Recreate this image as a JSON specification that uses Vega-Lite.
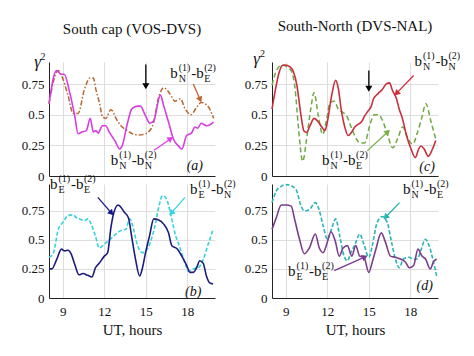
{
"$schema":"https://vega.github.io/schema/vega-lite/v6.json",
"padding":{"left":21,"top":19,"right":5,"bottom":5},
"config":{"view":{"stroke":null},"font":"Liberation Serif, Times New Roman, serif",
 "axis":{"labelFont":"Liberation Serif, Times New Roman, serif","labelFontSize":13,"labelColor":"#111","domainColor":"#222","domainWidth":1,"gridColor":"#dedede","ticks":false,"labelPadding":5,"titleFont":"Liberation Serif, Times New Roman, serif","titleFontSize":15,"titleFontWeight":"normal","titleColor":"#111"},
 "title":{"font":"Liberation Serif, Times New Roman, serif","fontSize":15,"fontWeight":"normal","color":"#111"},
 "text":{"font":"Liberation Serif, Times New Roman, serif","color":"#111","align":"left","baseline":"alphabetic"}},
"datasets":{
"lines":[
{"p":"a","s":"NN","t":8,"v":0.59},{"p":"a","s":"NN","t":8.54,"v":0.86},{"p":"a","s":"NN","t":8.9,"v":0.83},{"p":"a","s":"NN","t":9.1,"v":0.83},{"p":"a","s":"NN","t":9.5,"v":0.68},{"p":"a","s":"NN","t":9.86,"v":0.49},{"p":"a","s":"NN","t":10.1,"v":0.345},{"p":"a","s":"NN","t":10.4,"v":0.36},{"p":"a","s":"NN","t":10.7,"v":0.37},{"p":"a","s":"NN","t":10.98,"v":0.47},{"p":"a","s":"NN","t":11.2,"v":0.36},{"p":"a","s":"NN","t":11.4,"v":0.37},{"p":"a","s":"NN","t":11.55,"v":0.35},{"p":"a","s":"NN","t":11.87,"v":0.41},{"p":"a","s":"NN","t":12.1,"v":0.41},{"p":"a","s":"NN","t":12.35,"v":0.36},{"p":"a","s":"NN","t":12.8,"v":0.28},{"p":"a","s":"NN","t":13.1,"v":0.22},{"p":"a","s":"NN","t":13.3,"v":0.25},{"p":"a","s":"NN","t":13.67,"v":0.43},{"p":"a","s":"NN","t":14.0,"v":0.55},{"p":"a","s":"NN","t":14.4,"v":0.57},{"p":"a","s":"NN","t":14.6,"v":0.57},{"p":"a","s":"NN","t":14.98,"v":0.49},{"p":"a","s":"NN","t":15.3,"v":0.43},{"p":"a","s":"NN","t":15.57,"v":0.45},{"p":"a","s":"NN","t":16.05,"v":0.66},{"p":"a","s":"NN","t":16.3,"v":0.57},{"p":"a","s":"NN","t":16.64,"v":0.44},{"p":"a","s":"NN","t":17.0,"v":0.30},{"p":"a","s":"NN","t":17.4,"v":0.24},{"p":"a","s":"NN","t":17.6,"v":0.22},{"p":"a","s":"NN","t":17.95,"v":0.33},{"p":"a","s":"NN","t":18.3,"v":0.35},{"p":"a","s":"NN","t":18.55,"v":0.40},{"p":"a","s":"NN","t":18.75,"v":0.39},{"p":"a","s":"NN","t":19.0,"v":0.43},{"p":"a","s":"NN","t":19.4,"v":0.41},{"p":"a","s":"NN","t":19.9,"v":0.44},
{"p":"a","s":"NE","t":8,"v":0.59},{"p":"a","s":"NE","t":8.66,"v":0.86},{"p":"a","s":"NE","t":8.9,"v":0.82},{"p":"a","s":"NE","t":9.38,"v":0.655},{"p":"a","s":"NE","t":9.74,"v":0.51},{"p":"a","s":"NE","t":10.1,"v":0.51},{"p":"a","s":"NE","t":10.57,"v":0.71},{"p":"a","s":"NE","t":10.97,"v":0.80},{"p":"a","s":"NE","t":11.2,"v":0.80},{"p":"a","s":"NE","t":11.4,"v":0.70},{"p":"a","s":"NE","t":11.64,"v":0.60},{"p":"a","s":"NE","t":11.88,"v":0.48},{"p":"a","s":"NE","t":12.1,"v":0.47},{"p":"a","s":"NE","t":12.47,"v":0.54},{"p":"a","s":"NE","t":12.6,"v":0.53},{"p":"a","s":"NE","t":12.8,"v":0.48},{"p":"a","s":"NE","t":13.2,"v":0.41},{"p":"a","s":"NE","t":13.67,"v":0.37},{"p":"a","s":"NE","t":14.14,"v":0.34},{"p":"a","s":"NE","t":14.5,"v":0.335},{"p":"a","s":"NE","t":14.86,"v":0.34},{"p":"a","s":"NE","t":15.2,"v":0.36},{"p":"a","s":"NE","t":15.57,"v":0.44},{"p":"a","s":"NE","t":15.9,"v":0.63},{"p":"a","s":"NE","t":16.3,"v":0.72},{"p":"a","s":"NE","t":16.55,"v":0.70},{"p":"a","s":"NE","t":16.9,"v":0.64},{"p":"a","s":"NE","t":17.1,"v":0.61},{"p":"a","s":"NE","t":17.5,"v":0.63},{"p":"a","s":"NE","t":17.83,"v":0.55},{"p":"a","s":"NE","t":18.26,"v":0.50},{"p":"a","s":"NE","t":18.67,"v":0.56},{"p":"a","s":"NE","t":19.0,"v":0.60},{"p":"a","s":"NE","t":19.4,"v":0.58},{"p":"a","s":"NE","t":19.6,"v":0.55},{"p":"a","s":"NE","t":19.9,"v":0.47},
{"p":"c","s":"NN","t":8,"v":0.545},{"p":"c","s":"NN","t":8.24,"v":0.70},{"p":"c","s":"NN","t":8.48,"v":0.83},{"p":"c","s":"NN","t":8.72,"v":0.90},{"p":"c","s":"NN","t":8.96,"v":0.905},{"p":"c","s":"NN","t":9.3,"v":0.89},{"p":"c","s":"NN","t":9.55,"v":0.85},{"p":"c","s":"NN","t":9.8,"v":0.74},{"p":"c","s":"NN","t":10.1,"v":0.49},{"p":"c","s":"NN","t":10.3,"v":0.37},{"p":"c","s":"NN","t":10.5,"v":0.355},{"p":"c","s":"NN","t":10.75,"v":0.41},{"p":"c","s":"NN","t":11.04,"v":0.47},{"p":"c","s":"NN","t":11.35,"v":0.44},{"p":"c","s":"NN","t":11.6,"v":0.40},{"p":"c","s":"NN","t":11.83,"v":0.37},{"p":"c","s":"NN","t":12.0,"v":0.44},{"p":"c","s":"NN","t":12.3,"v":0.65},{"p":"c","s":"NN","t":12.6,"v":0.78},{"p":"c","s":"NN","t":12.8,"v":0.71},{"p":"c","s":"NN","t":13.0,"v":0.545},{"p":"c","s":"NN","t":13.26,"v":0.40},{"p":"c","s":"NN","t":13.5,"v":0.33},{"p":"c","s":"NN","t":13.74,"v":0.355},{"p":"c","s":"NN","t":13.98,"v":0.40},{"p":"c","s":"NN","t":14.2,"v":0.42},{"p":"c","s":"NN","t":14.46,"v":0.44},{"p":"c","s":"NN","t":14.7,"v":0.49},{"p":"c","s":"NN","t":14.94,"v":0.53},{"p":"c","s":"NN","t":15.18,"v":0.57},{"p":"c","s":"NN","t":15.34,"v":0.63},{"p":"c","s":"NN","t":15.65,"v":0.67},{"p":"c","s":"NN","t":16.0,"v":0.71},{"p":"c","s":"NN","t":16.25,"v":0.75},{"p":"c","s":"NN","t":16.5,"v":0.76},{"p":"c","s":"NN","t":16.7,"v":0.70},{"p":"c","s":"NN","t":16.97,"v":0.64},{"p":"c","s":"NN","t":17.2,"v":0.545},{"p":"c","s":"NN","t":17.45,"v":0.46},{"p":"c","s":"NN","t":17.7,"v":0.34},{"p":"c","s":"NN","t":18.05,"v":0.22},{"p":"c","s":"NN","t":18.36,"v":0.15},{"p":"c","s":"NN","t":18.6,"v":0.22},{"p":"c","s":"NN","t":18.77,"v":0.245},{"p":"c","s":"NN","t":19.0,"v":0.22},{"p":"c","s":"NN","t":19.3,"v":0.16},{"p":"c","s":"NN","t":19.6,"v":0.22},{"p":"c","s":"NN","t":19.84,"v":0.29},
{"p":"c","s":"NE","t":8,"v":0.74},{"p":"c","s":"NE","t":8.36,"v":0.87},{"p":"c","s":"NE","t":8.72,"v":0.905},{"p":"c","s":"NE","t":9.08,"v":0.89},{"p":"c","s":"NE","t":9.43,"v":0.85},{"p":"c","s":"NE","t":9.67,"v":0.71},{"p":"c","s":"NE","t":9.9,"v":0.41},{"p":"c","s":"NE","t":10.22,"v":0.12},{"p":"c","s":"NE","t":10.5,"v":0.30},{"p":"c","s":"NE","t":10.8,"v":0.545},{"p":"c","s":"NE","t":11.04,"v":0.68},{"p":"c","s":"NE","t":11.35,"v":0.49},{"p":"c","s":"NE","t":11.66,"v":0.34},{"p":"c","s":"NE","t":11.95,"v":0.46},{"p":"c","s":"NE","t":12.2,"v":0.60},{"p":"c","s":"NE","t":12.5,"v":0.61},{"p":"c","s":"NE","t":12.8,"v":0.545},{"p":"c","s":"NE","t":13.1,"v":0.52},{"p":"c","s":"NE","t":13.4,"v":0.49},{"p":"c","s":"NE","t":13.65,"v":0.42},{"p":"c","s":"NE","t":13.98,"v":0.33},{"p":"c","s":"NE","t":14.34,"v":0.27},{"p":"c","s":"NE","t":14.7,"v":0.27},{"p":"c","s":"NE","t":15.06,"v":0.41},{"p":"c","s":"NE","t":15.4,"v":0.50},{"p":"c","s":"NE","t":15.7,"v":0.50},{"p":"c","s":"NE","t":16.0,"v":0.45},{"p":"c","s":"NE","t":16.37,"v":0.33},{"p":"c","s":"NE","t":16.73,"v":0.23},{"p":"c","s":"NE","t":17.1,"v":0.31},{"p":"c","s":"NE","t":17.45,"v":0.40},{"p":"c","s":"NE","t":17.8,"v":0.31},{"p":"c","s":"NE","t":18.17,"v":0.26},{"p":"c","s":"NE","t":18.5,"v":0.35},{"p":"c","s":"NE","t":18.84,"v":0.48},{"p":"c","s":"NE","t":19.12,"v":0.59},{"p":"c","s":"NE","t":19.5,"v":0.44},{"p":"c","s":"NE","t":19.84,"v":0.30},
{"p":"b","s":"EE","t":8,"v":0.25},{"p":"b","s":"EE","t":8.2,"v":0.25},{"p":"b","s":"EE","t":8.55,"v":0.33},{"p":"b","s":"EE","t":8.9,"v":0.42},{"p":"b","s":"EE","t":9.14,"v":0.405},{"p":"b","s":"EE","t":9.38,"v":0.41},{"p":"b","s":"EE","t":9.6,"v":0.38},{"p":"b","s":"EE","t":9.86,"v":0.29},{"p":"b","s":"EE","t":10.17,"v":0.20},{"p":"b","s":"EE","t":10.45,"v":0.21},{"p":"b","s":"EE","t":10.8,"v":0.195},{"p":"b","s":"EE","t":11.1,"v":0.18},{"p":"b","s":"EE","t":11.36,"v":0.26},{"p":"b","s":"EE","t":11.64,"v":0.30},{"p":"b","s":"EE","t":12.0,"v":0.36},{"p":"b","s":"EE","t":12.24,"v":0.39},{"p":"b","s":"EE","t":12.48,"v":0.61},{"p":"b","s":"EE","t":12.7,"v":0.74},{"p":"b","s":"EE","t":13.0,"v":0.80},{"p":"b","s":"EE","t":13.2,"v":0.78},{"p":"b","s":"EE","t":13.43,"v":0.74},{"p":"b","s":"EE","t":13.74,"v":0.69},{"p":"b","s":"EE","t":14.0,"v":0.51},{"p":"b","s":"EE","t":14.26,"v":0.33},{"p":"b","s":"EE","t":14.55,"v":0.19},{"p":"b","s":"EE","t":14.74,"v":0.25},{"p":"b","s":"EE","t":14.98,"v":0.39},{"p":"b","s":"EE","t":15.26,"v":0.53},{"p":"b","s":"EE","t":15.57,"v":0.68},{"p":"b","s":"EE","t":15.93,"v":0.67},{"p":"b","s":"EE","t":16.29,"v":0.635},{"p":"b","s":"EE","t":16.64,"v":0.56},{"p":"b","s":"EE","t":16.88,"v":0.45},{"p":"b","s":"EE","t":17.24,"v":0.425},{"p":"b","s":"EE","t":17.6,"v":0.36},{"p":"b","s":"EE","t":17.95,"v":0.28},{"p":"b","s":"EE","t":18.19,"v":0.22},{"p":"b","s":"EE","t":18.43,"v":0.22},{"p":"b","s":"EE","t":18.67,"v":0.26},{"p":"b","s":"EE","t":18.9,"v":0.32},{"p":"b","s":"EE","t":19.14,"v":0.30},{"p":"b","s":"EE","t":19.38,"v":0.19},{"p":"b","s":"EE","t":19.62,"v":0.13},{"p":"b","s":"EE","t":19.86,"v":0.12},
{"p":"b","s":"EN","t":8,"v":0.35},{"p":"b","s":"EN","t":8.3,"v":0.38},{"p":"b","s":"EN","t":8.67,"v":0.59},{"p":"b","s":"EN","t":9.0,"v":0.65},{"p":"b","s":"EN","t":9.38,"v":0.71},{"p":"b","s":"EN","t":9.74,"v":0.715},{"p":"b","s":"EN","t":9.98,"v":0.69},{"p":"b","s":"EN","t":10.2,"v":0.68},{"p":"b","s":"EN","t":10.55,"v":0.665},{"p":"b","s":"EN","t":10.8,"v":0.68},{"p":"b","s":"EN","t":11.05,"v":0.635},{"p":"b","s":"EN","t":11.36,"v":0.53},{"p":"b","s":"EN","t":11.64,"v":0.43},{"p":"b","s":"EN","t":11.88,"v":0.45},{"p":"b","s":"EN","t":12.17,"v":0.48},{"p":"b","s":"EN","t":12.48,"v":0.51},{"p":"b","s":"EN","t":12.83,"v":0.55},{"p":"b","s":"EN","t":13.2,"v":0.58},{"p":"b","s":"EN","t":13.55,"v":0.59},{"p":"b","s":"EN","t":13.83,"v":0.68},{"p":"b","s":"EN","t":14.05,"v":0.62},{"p":"b","s":"EN","t":14.38,"v":0.46},{"p":"b","s":"EN","t":14.74,"v":0.39},{"p":"b","s":"EN","t":15.0,"v":0.405},{"p":"b","s":"EN","t":15.33,"v":0.48},{"p":"b","s":"EN","t":15.64,"v":0.61},{"p":"b","s":"EN","t":15.93,"v":0.78},{"p":"b","s":"EN","t":16.2,"v":0.88},{"p":"b","s":"EN","t":16.5,"v":0.85},{"p":"b","s":"EN","t":16.76,"v":0.74},{"p":"b","s":"EN","t":17.1,"v":0.56},{"p":"b","s":"EN","t":17.5,"v":0.42},{"p":"b","s":"EN","t":17.83,"v":0.30},{"p":"b","s":"EN","t":18.1,"v":0.23},{"p":"b","s":"EN","t":18.43,"v":0.25},{"p":"b","s":"EN","t":18.8,"v":0.26},{"p":"b","s":"EN","t":19.14,"v":0.33},{"p":"b","s":"EN","t":19.5,"v":0.46},{"p":"b","s":"EN","t":19.86,"v":0.59},
{"p":"d","s":"EE","t":8,"v":0.59},{"p":"d","s":"EE","t":8.31,"v":0.69},{"p":"d","s":"EE","t":8.67,"v":0.80},{"p":"d","s":"EE","t":9.03,"v":0.80},{"p":"d","s":"EE","t":9.39,"v":0.79},{"p":"d","s":"EE","t":9.63,"v":0.68},{"p":"d","s":"EE","t":9.99,"v":0.505},{"p":"d","s":"EE","t":10.34,"v":0.38},{"p":"d","s":"EE","t":10.7,"v":0.43},{"p":"d","s":"EE","t":11.13,"v":0.55},{"p":"d","s":"EE","t":11.42,"v":0.43},{"p":"d","s":"EE","t":11.7,"v":0.39},{"p":"d","s":"EE","t":11.95,"v":0.46},{"p":"d","s":"EE","t":12.26,"v":0.57},{"p":"d","s":"EE","t":12.57,"v":0.49},{"p":"d","s":"EE","t":12.86,"v":0.36},{"p":"d","s":"EE","t":13.14,"v":0.43},{"p":"d","s":"EE","t":13.45,"v":0.45},{"p":"d","s":"EE","t":13.77,"v":0.36},{"p":"d","s":"EE","t":14.05,"v":0.45},{"p":"d","s":"EE","t":14.34,"v":0.36},{"p":"d","s":"EE","t":14.65,"v":0.35},{"p":"d","s":"EE","t":15.0,"v":0.22},{"p":"d","s":"EE","t":15.25,"v":0.31},{"p":"d","s":"EE","t":15.49,"v":0.41},{"p":"d","s":"EE","t":15.9,"v":0.56},{"p":"d","s":"EE","t":16.2,"v":0.48},{"p":"d","s":"EE","t":16.56,"v":0.36},{"p":"d","s":"EE","t":16.92,"v":0.35},{"p":"d","s":"EE","t":17.28,"v":0.335},{"p":"d","s":"EE","t":17.64,"v":0.31},{"p":"d","s":"EE","t":17.93,"v":0.26},{"p":"d","s":"EE","t":18.24,"v":0.28},{"p":"d","s":"EE","t":18.55,"v":0.42},{"p":"d","s":"EE","t":18.84,"v":0.36},{"p":"d","s":"EE","t":19.1,"v":0.335},{"p":"d","s":"EE","t":19.44,"v":0.25},{"p":"d","s":"EE","t":19.67,"v":0.31},{"p":"d","s":"EE","t":19.9,"v":0.335},
{"p":"d","s":"NE","t":8,"v":0.82},{"p":"d","s":"NE","t":8.31,"v":0.92},{"p":"d","s":"NE","t":8.67,"v":0.96},{"p":"d","s":"NE","t":9.03,"v":0.975},{"p":"d","s":"NE","t":9.39,"v":0.965},{"p":"d","s":"NE","t":9.75,"v":0.93},{"p":"d","s":"NE","t":10.1,"v":0.79},{"p":"d","s":"NE","t":10.34,"v":0.75},{"p":"d","s":"NE","t":10.7,"v":0.76},{"p":"d","s":"NE","t":11.13,"v":0.82},{"p":"d","s":"NE","t":11.4,"v":0.76},{"p":"d","s":"NE","t":11.7,"v":0.62},{"p":"d","s":"NE","t":12.0,"v":0.505},{"p":"d","s":"NE","t":12.33,"v":0.605},{"p":"d","s":"NE","t":12.6,"v":0.68},{"p":"d","s":"NE","t":12.9,"v":0.53},{"p":"d","s":"NE","t":13.21,"v":0.36},{"p":"d","s":"NE","t":13.45,"v":0.32},{"p":"d","s":"NE","t":13.7,"v":0.39},{"p":"d","s":"NE","t":14.0,"v":0.46},{"p":"d","s":"NE","t":14.34,"v":0.55},{"p":"d","s":"NE","t":14.65,"v":0.46},{"p":"d","s":"NE","t":15.0,"v":0.35},{"p":"d","s":"NE","t":15.25,"v":0.45},{"p":"d","s":"NE","t":15.6,"v":0.65},{"p":"d","s":"NE","t":15.97,"v":0.70},{"p":"d","s":"NE","t":16.33,"v":0.65},{"p":"d","s":"NE","t":16.64,"v":0.48},{"p":"d","s":"NE","t":16.92,"v":0.335},{"p":"d","s":"NE","t":17.2,"v":0.26},{"p":"d","s":"NE","t":17.5,"v":0.335},{"p":"d","s":"NE","t":17.88,"v":0.35},{"p":"d","s":"NE","t":18.24,"v":0.335},{"p":"d","s":"NE","t":18.5,"v":0.335},{"p":"d","s":"NE","t":18.79,"v":0.42},{"p":"d","s":"NE","t":19.08,"v":0.505},{"p":"d","s":"NE","t":19.36,"v":0.45},{"p":"d","s":"NE","t":19.67,"v":0.31},{"p":"d","s":"NE","t":19.9,"v":0.19}
],
"ann":[
{"p":"a","t":16.76,"v":0.80,"s1":"N","s2":"E"},{"p":"a","t":12.47,"v":0.09,"s1":"N","s2":"N"},
{"p":"b","t":8.07,"v":0.94,"s1":"E","s2":"E"},{"p":"b","t":18.19,"v":0.894,"s1":"E","s2":"N"},
{"p":"c","t":18.3,"v":0.90,"s1":"N","s2":"N"},{"p":"c","t":11.62,"v":0.09,"s1":"N","s2":"E"},
{"p":"d","t":17.47,"v":0.89,"s1":"N","s2":"E"},{"p":"d","t":9.16,"v":0.19,"s1":"E","s2":"E"}
],
"letters":[
{"p":"a","t":17.95,"v":0.05,"txt":"(a)"},{"p":"b","t":17.83,"v":0.02,"txt":"(b)"},{"p":"c","t":18.65,"v":0.04,"txt":"(c)"},{"p":"d","t":18.45,"v":0.065,"txt":"(d)"}
],
"gam":[{"p":"a","t":8,"v":0.89},{"p":"c","t":8,"v":0.91}],
"arrows":[
{"id":"a1","p":"a","t2":18.43,"v2":0.75,"t":18.9,"v":0.63},
{"id":"a2","p":"a","t2":15.6,"v2":0.21,"t":16.74,"v":0.30},
{"id":"a3","p":"a","t2":15,"v2":0.91,"t":15,"v":0.74},
{"id":"b1","p":"b","t2":11.53,"v2":0.865,"t":12.47,"v":0.736},
{"id":"b2","p":"b","t2":17.83,"v2":0.865,"t":16.88,"v":0.736},
{"id":"c1","p":"c","t2":18.24,"v2":0.82,"t":17.05,"v":0.68},
{"id":"c2","p":"c","t2":14.89,"v2":0.205,"t":16.32,"v":0.355},
{"id":"c3","p":"c","t2":15,"v2":0.86,"t":15,"v":0.72},
{"id":"d1","p":"d","t2":17.22,"v2":0.82,"t":16.26,"v":0.70},
{"id":"d2","p":"d","t2":12.5,"v2":0.235,"t":14.65,"v":0.35}
]
},
"columns":2,
"spacing":{"row":8,"column":57},
"bounds":"flush",
"concat":[
{"width":166,"height":114,"title":{"text":"South cap (VOS-DVS)","offset":15},
 "encoding":{"x":{"field":"t","type":"quantitative","scale":{"domain":[8,20],"nice":false,"zero":false},"axis":{"values":[9,12,15,18],"labels":false,"title":null}},
   "y":{"field":"v","type":"quantitative","scale":{"domain":[0,0.93],"nice":false},"axis":{"values":[0,0.25,0.5,0.75],"format":".2~f","title":null}}},
 "layer":[
 {"data":{"name":"lines"},"transform":[{"filter":"datum.p==='a'&&datum.s==='NE'"}],"mark":{"type":"line","color":"#b9652e","strokeWidth":1.5,"strokeDash":[5,2,1.5,2],"interpolate":"monotone"}},
 {"data":{"name":"lines"},"transform":[{"filter":"datum.p==='a'&&datum.s==='NN'"}],"mark":{"type":"line","color":"#d63ee0","strokeWidth":1.6,"interpolate":"monotone"}},
 {"data":{"name":"arrows"},"transform":[{"filter":"datum.p==='a'"}],"mark":{"type":"rule","strokeWidth":1.3},
  "encoding":{"x2":{"field":"t2"},"y2":{"field":"v2"},
   "color":{"field":"id","type":"nominal","legend":null,"scale":{"domain":["a1","a2","a3","b1","b2","c1","c2","c3","d1","d2"],"range":["#c0622a","#e23ee6","#000000","#14148a","#2fd6df","#d42a3a","#78b048","#000000","#22b2b2","#7a3a92"]}}}},
 {"data":{"name":"arrows"},"transform":[{"filter":"datum.id==='a1'"}],"mark":{"type":"point","shape":"triangle","filled":true,"opacity":1,"size":45,"angle":156,"color":"#c0622a"}},
 {"data":{"name":"arrows"},"transform":[{"filter":"datum.id==='a2'"}],"mark":{"type":"point","shape":"triangle","filled":true,"opacity":1,"size":45,"angle":55,"color":"#e23ee6"}},
 {"data":{"name":"arrows"},"transform":[{"filter":"datum.id==='a3'"}],"mark":{"type":"point","shape":"triangle","filled":true,"opacity":1,"size":50,"angle":180,"color":"#000000"}},
 {"data":{"name":"ann"},"transform":[{"filter":"datum.p==='a'"}],"mark":{"type":"text","fontSize":15},"encoding":{"text":{"value":"b"}}},
 {"data":{"name":"ann"},"transform":[{"filter":"datum.p==='a'"}],"mark":{"type":"text","fontSize":10,"dx":8.5,"dy":-7},"encoding":{"text":{"value":"(1)"}}},
 {"data":{"name":"ann"},"transform":[{"filter":"datum.p==='a'"}],"mark":{"type":"text","fontSize":10,"dx":8.5,"dy":4},"encoding":{"text":{"field":"s1"}}},
 {"data":{"name":"ann"},"transform":[{"filter":"datum.p==='a'"}],"mark":{"type":"text","fontSize":15,"dx":21},"encoding":{"text":{"value":"-b"}}},
 {"data":{"name":"ann"},"transform":[{"filter":"datum.p==='a'"}],"mark":{"type":"text","fontSize":10,"dx":34,"dy":-7},"encoding":{"text":{"value":"(2)"}}},
 {"data":{"name":"ann"},"transform":[{"filter":"datum.p==='a'"}],"mark":{"type":"text","fontSize":10,"dx":34,"dy":4},"encoding":{"text":{"field":"s2"}}},
 {"data":{"name":"letters"},"transform":[{"filter":"datum.p==='a'"}],"mark":{"type":"text","fontSize":14,"fontStyle":"italic"},"encoding":{"text":{"field":"txt"}}},
 {"data":{"name":"gam"},"transform":[{"filter":"datum.p==='a'"}],"mark":{"type":"text","fontSize":17,"fontStyle":"italic","align":"right","dx":-8},"encoding":{"text":{"value":"γ"}}},
 {"data":{"name":"gam"},"transform":[{"filter":"datum.p==='a'"}],"mark":{"type":"text","fontSize":10,"dx":-8.5,"dy":-7},"encoding":{"text":{"value":"2"}}}
 ]},
{"width":166,"height":114,"title":{"text":"South-North (DVS-NAL)","offset":15},
 "encoding":{"x":{"field":"t","type":"quantitative","scale":{"domain":[8,20],"nice":false,"zero":false},"axis":{"values":[9,12,15,18],"labels":false,"title":null}},
   "y":{"field":"v","type":"quantitative","scale":{"domain":[0,0.93],"nice":false},"axis":{"values":[0,0.25,0.5,0.75],"format":".2~f","title":null}}},
 "layer":[
 {"data":{"name":"lines"},"transform":[{"filter":"datum.p==='c'&&datum.s==='NE'"}],"mark":{"type":"line","color":"#6fa843","strokeWidth":1.5,"strokeDash":[5,3],"interpolate":"monotone"}},
 {"data":{"name":"lines"},"transform":[{"filter":"datum.p==='c'&&datum.s==='NN'"}],"mark":{"type":"line","color":"#c8303c","strokeWidth":1.6,"interpolate":"monotone"}},
 {"data":{"name":"arrows"},"transform":[{"filter":"datum.p==='c'"}],"mark":{"type":"rule","strokeWidth":1.3},
  "encoding":{"x2":{"field":"t2"},"y2":{"field":"v2"},
   "color":{"field":"id","type":"nominal","legend":null,"scale":{"domain":["a1","a2","a3","b1","b2","c1","c2","c3","d1","d2"],"range":["#c0622a","#e23ee6","#000000","#14148a","#2fd6df","#d42a3a","#78b048","#000000","#22b2b2","#7a3a92"]}}}},
 {"data":{"name":"arrows"},"transform":[{"filter":"datum.id==='c1'"}],"mark":{"type":"point","shape":"triangle","filled":true,"opacity":1,"size":45,"angle":225,"color":"#d42a3a"}},
 {"data":{"name":"arrows"},"transform":[{"filter":"datum.id==='c2'"}],"mark":{"type":"point","shape":"triangle","filled":true,"opacity":1,"size":45,"angle":47,"color":"#78b048"}},
 {"data":{"name":"arrows"},"transform":[{"filter":"datum.id==='c3'"}],"mark":{"type":"point","shape":"triangle","filled":true,"opacity":1,"size":50,"angle":180,"color":"#000000"}},
 {"data":{"name":"ann"},"transform":[{"filter":"datum.p==='c'"}],"mark":{"type":"text","fontSize":15},"encoding":{"text":{"value":"b"}}},
 {"data":{"name":"ann"},"transform":[{"filter":"datum.p==='c'"}],"mark":{"type":"text","fontSize":10,"dx":8.5,"dy":-7},"encoding":{"text":{"value":"(1)"}}},
 {"data":{"name":"ann"},"transform":[{"filter":"datum.p==='c'"}],"mark":{"type":"text","fontSize":10,"dx":8.5,"dy":4},"encoding":{"text":{"field":"s1"}}},
 {"data":{"name":"ann"},"transform":[{"filter":"datum.p==='c'"}],"mark":{"type":"text","fontSize":15,"dx":21},"encoding":{"text":{"value":"-b"}}},
 {"data":{"name":"ann"},"transform":[{"filter":"datum.p==='c'"}],"mark":{"type":"text","fontSize":10,"dx":34,"dy":-7},"encoding":{"text":{"value":"(2)"}}},
 {"data":{"name":"ann"},"transform":[{"filter":"datum.p==='c'"}],"mark":{"type":"text","fontSize":10,"dx":34,"dy":4},"encoding":{"text":{"field":"s2"}}},
 {"data":{"name":"letters"},"transform":[{"filter":"datum.p==='c'"}],"mark":{"type":"text","fontSize":14,"fontStyle":"italic"},"encoding":{"text":{"field":"txt"}}},
 {"data":{"name":"gam"},"transform":[{"filter":"datum.p==='c'"}],"mark":{"type":"text","fontSize":17,"fontStyle":"italic","align":"right","dx":-12},"encoding":{"text":{"value":"γ"}}},
 {"data":{"name":"gam"},"transform":[{"filter":"datum.p==='c'"}],"mark":{"type":"text","fontSize":10,"dx":-12,"dy":-7},"encoding":{"text":{"value":"2"}}}
 ]},
{"width":166,"height":114,
 "encoding":{"x":{"field":"t","type":"quantitative","scale":{"domain":[8,20],"nice":false,"zero":false},"axis":{"values":[9,12,15,18],"title":"UT, hours","labelPadding":7,"titlePadding":4}},
   "y":{"field":"v","type":"quantitative","scale":{"domain":[0,0.98],"nice":false},"axis":{"values":[0,0.25,0.5,0.75],"format":".2~f","title":null}}},
 "layer":[
 {"data":{"name":"lines"},"transform":[{"filter":"datum.p==='b'&&datum.s==='EN'"}],"mark":{"type":"line","color":"#36d3dc","strokeWidth":1.6,"strokeDash":[4,2],"interpolate":"monotone"}},
 {"data":{"name":"lines"},"transform":[{"filter":"datum.p==='b'&&datum.s==='EE'"}],"mark":{"type":"line","color":"#1c1c7c","strokeWidth":1.6,"interpolate":"monotone"}},
 {"data":{"name":"arrows"},"transform":[{"filter":"datum.p==='b'"}],"mark":{"type":"rule","strokeWidth":1.3},
  "encoding":{"x2":{"field":"t2"},"y2":{"field":"v2"},
   "color":{"field":"id","type":"nominal","legend":null,"scale":{"domain":["a1","a2","a3","b1","b2","c1","c2","c3","d1","d2"],"range":["#c0622a","#e23ee6","#000000","#14148a","#2fd6df","#d42a3a","#78b048","#000000","#22b2b2","#7a3a92"]}}}},
 {"data":{"name":"arrows"},"transform":[{"filter":"datum.id==='b1'"}],"mark":{"type":"point","shape":"triangle","filled":true,"opacity":1,"size":45,"angle":138,"color":"#14148a"}},
 {"data":{"name":"arrows"},"transform":[{"filter":"datum.id==='b2'"}],"mark":{"type":"point","shape":"triangle","filled":true,"opacity":1,"size":45,"angle":222,"color":"#2fd6df"}},
 {"data":{"name":"ann"},"transform":[{"filter":"datum.p==='b'"}],"mark":{"type":"text","fontSize":15},"encoding":{"text":{"value":"b"}}},
 {"data":{"name":"ann"},"transform":[{"filter":"datum.p==='b'"}],"mark":{"type":"text","fontSize":10,"dx":8.5,"dy":-7},"encoding":{"text":{"value":"(1)"}}},
 {"data":{"name":"ann"},"transform":[{"filter":"datum.p==='b'"}],"mark":{"type":"text","fontSize":10,"dx":8.5,"dy":4},"encoding":{"text":{"field":"s1"}}},
 {"data":{"name":"ann"},"transform":[{"filter":"datum.p==='b'"}],"mark":{"type":"text","fontSize":15,"dx":21},"encoding":{"text":{"value":"-b"}}},
 {"data":{"name":"ann"},"transform":[{"filter":"datum.p==='b'"}],"mark":{"type":"text","fontSize":10,"dx":34,"dy":-7},"encoding":{"text":{"value":"(2)"}}},
 {"data":{"name":"ann"},"transform":[{"filter":"datum.p==='b'"}],"mark":{"type":"text","fontSize":10,"dx":34,"dy":4},"encoding":{"text":{"field":"s2"}}},
 {"data":{"name":"letters"},"transform":[{"filter":"datum.p==='b'"}],"mark":{"type":"text","fontSize":14,"fontStyle":"italic"},"encoding":{"text":{"field":"txt"}}}
 ]},
{"width":166,"height":114,
 "encoding":{"x":{"field":"t","type":"quantitative","scale":{"domain":[8,20],"nice":false,"zero":false},"axis":{"values":[9,12,15,18],"title":"UT, hours","labelPadding":7,"titlePadding":4}},
   "y":{"field":"v","type":"quantitative","scale":{"domain":[0,0.98],"nice":false},"axis":{"values":[0,0.25,0.5,0.75],"format":".2~f","title":null}}},
 "layer":[
 {"data":{"name":"lines"},"transform":[{"filter":"datum.p==='d'&&datum.s==='NE'"}],"mark":{"type":"line","color":"#2ab5b5","strokeWidth":1.6,"strokeDash":[4,2],"interpolate":"monotone"}},
 {"data":{"name":"lines"},"transform":[{"filter":"datum.p==='d'&&datum.s==='EE'"}],"mark":{"type":"line","color":"#7a3e8c","strokeWidth":1.6,"interpolate":"monotone"}},
 {"data":{"name":"arrows"},"transform":[{"filter":"datum.p==='d'"}],"mark":{"type":"rule","strokeWidth":1.3},
  "encoding":{"x2":{"field":"t2"},"y2":{"field":"v2"},
   "color":{"field":"id","type":"nominal","legend":null,"scale":{"domain":["a1","a2","a3","b1","b2","c1","c2","c3","d1","d2"],"range":["#c0622a","#e23ee6","#000000","#14148a","#2fd6df","#d42a3a","#78b048","#000000","#22b2b2","#7a3a92"]}}}},
 {"data":{"name":"arrows"},"transform":[{"filter":"datum.id==='d1'"}],"mark":{"type":"point","shape":"triangle","filled":true,"opacity":1,"size":45,"angle":225,"color":"#22b2b2"}},
 {"data":{"name":"arrows"},"transform":[{"filter":"datum.id==='d2'"}],"mark":{"type":"point","shape":"triangle","filled":true,"opacity":1,"size":45,"angle":66,"color":"#7a3a92"}},
 {"data":{"name":"ann"},"transform":[{"filter":"datum.p==='d'"}],"mark":{"type":"text","fontSize":15},"encoding":{"text":{"value":"b"}}},
 {"data":{"name":"ann"},"transform":[{"filter":"datum.p==='d'"}],"mark":{"type":"text","fontSize":10,"dx":8.5,"dy":-7},"encoding":{"text":{"value":"(1)"}}},
 {"data":{"name":"ann"},"transform":[{"filter":"datum.p==='d'"}],"mark":{"type":"text","fontSize":10,"dx":8.5,"dy":4},"encoding":{"text":{"field":"s1"}}},
 {"data":{"name":"ann"},"transform":[{"filter":"datum.p==='d'"}],"mark":{"type":"text","fontSize":15,"dx":21},"encoding":{"text":{"value":"-b"}}},
 {"data":{"name":"ann"},"transform":[{"filter":"datum.p==='d'"}],"mark":{"type":"text","fontSize":10,"dx":34,"dy":-7},"encoding":{"text":{"value":"(2)"}}},
 {"data":{"name":"ann"},"transform":[{"filter":"datum.p==='d'"}],"mark":{"type":"text","fontSize":10,"dx":34,"dy":4},"encoding":{"text":{"field":"s2"}}},
 {"data":{"name":"letters"},"transform":[{"filter":"datum.p==='d'"}],"mark":{"type":"text","fontSize":14,"fontStyle":"italic"},"encoding":{"text":{"field":"txt"}}}
 ]}
]
}
